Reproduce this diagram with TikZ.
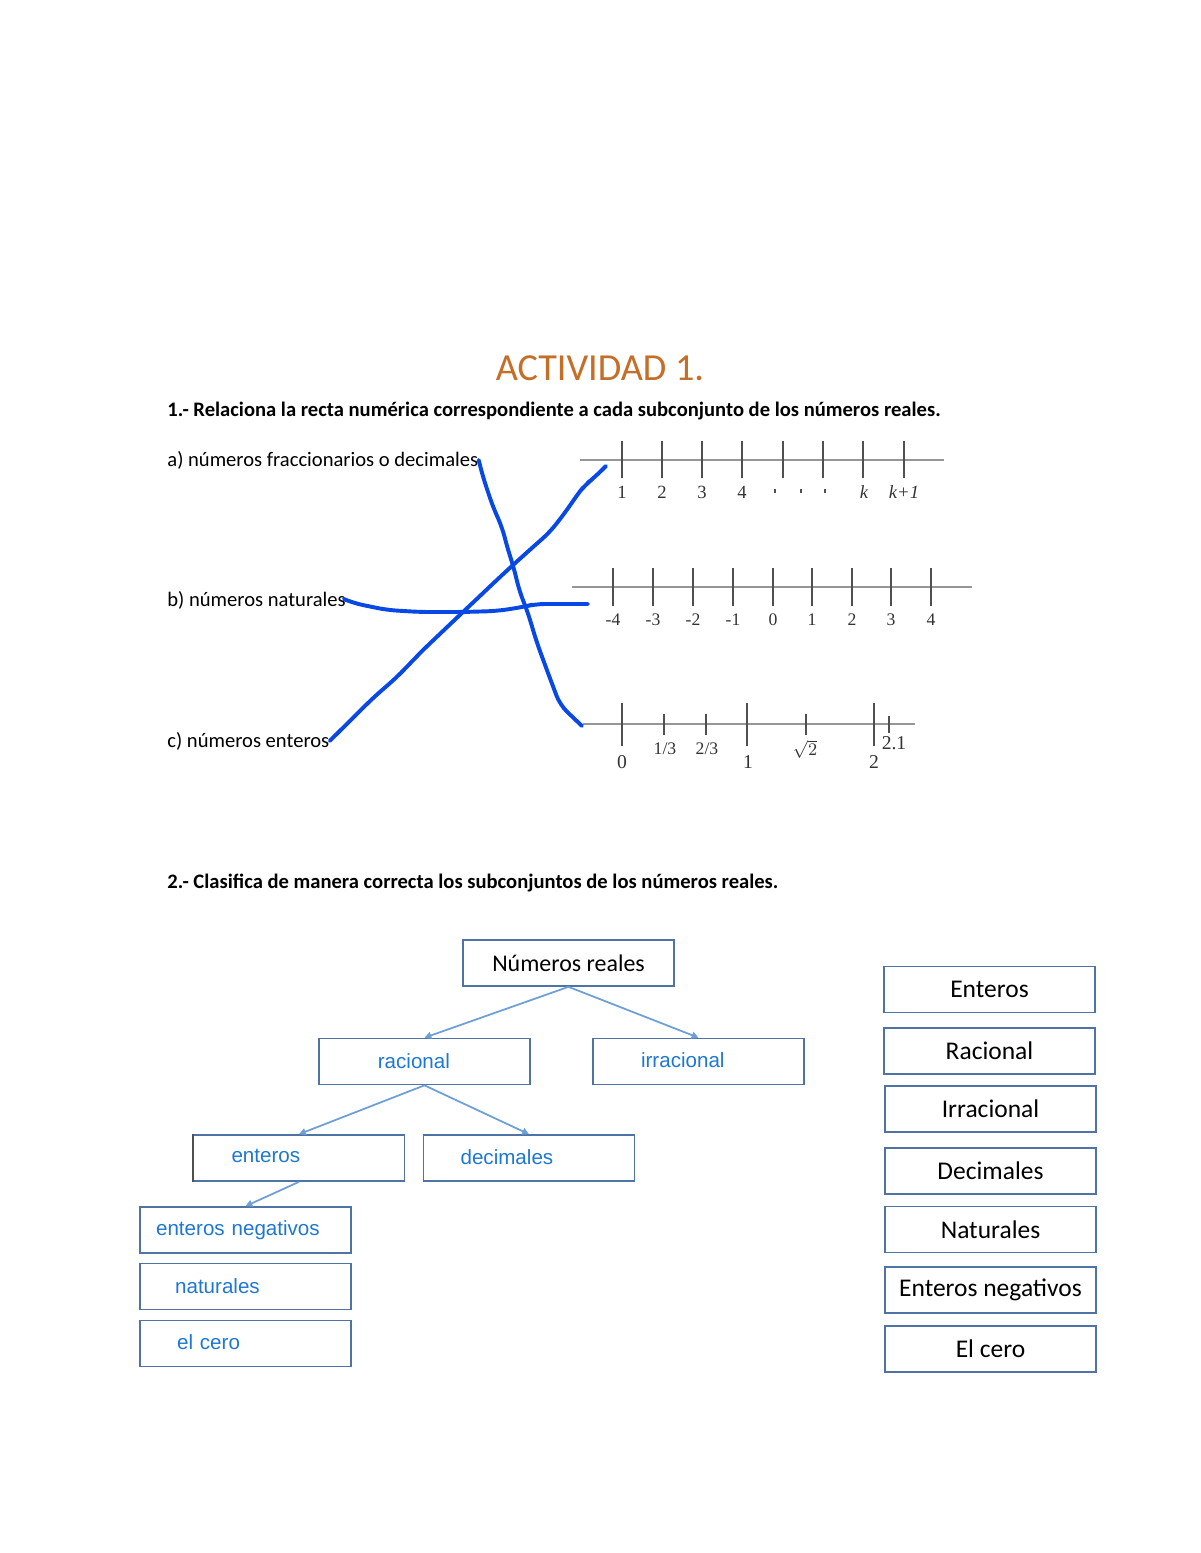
\documentclass[tikz,border=0pt]{standalone}
\usepackage{fontspec}
\setmainfont{Carlito}
\newfontfamily\arialf{Liberation Sans}
\newfontfamily\tnr{Liberation Serif}
\usetikzlibrary{arrows.meta}
\definecolor{titleor}{RGB}{196,110,40}
\definecolor{penblue}{RGB}{8,72,228}
\definecolor{boxc}{RGB}{80,115,165}
\definecolor{arrc}{RGB}{110,160,215}
\definecolor{txtblue}{RGB}{30,120,210}
\definecolor{axisg}{RGB}{150,150,150}
\definecolor{tickg}{RGB}{80,80,80}
\begin{document}
\begin{tikzpicture}[x=0.51pt,y=-0.51pt,
  txt/.style={anchor=west,inner sep=0pt,font=\fontsize{10.5}{13}\selectfont},
  qtxt/.style={anchor=west,inner sep=0pt,font=\bfseries\fontsize{10.5}{13}\selectfont},
  axisline/.style={draw=axisg,line width=1pt},
  tickline/.style={draw=tickg,line width=0.7pt},
  nl/.style={inner sep=0pt,font=\tnr\fontsize{9}{10}\selectfont,text=black!80},
  pen/.style={draw=penblue,line width=2pt,rounded corners=5pt,line cap=round,line join=round},
  bluebox/.style={draw=boxc,line width=0.8pt,minimum height=23.5pt,inner sep=0pt,text width=107.6pt,align=left,font=\arialf\fontsize{10.5}{12}\selectfont,text=txtblue},
  blackbox/.style={draw=boxc,line width=0.8pt,minimum height=23.5pt,minimum width=107.6pt,inner sep=0pt,align=center,font=\fontsize{13}{15}\selectfont},
  arr/.style={draw=arrc,line width=0.9pt,-{Triangle[length=3.5pt,width=3.5pt]}}
]
\useasboundingbox (0,0) rectangle (1200,1553);
\fill[white] (0,0) rectangle (1200,1553);

% title and questions
\node[inner sep=0pt,font=\fontsize{19.5}{23}\selectfont,text=titleor] (title) at (600,368) {ACTIVIDAD 1.};
\node[qtxt] (q1) at (167,411) {1.- Relaciona la recta numérica correspondiente a cada subconjunto de los números reales.};
\node[txt] (la) at (167,460) {a) números fraccionarios o decimales};
\node[txt] (lb) at (167,600) {b) números naturales};
\node[txt] (lc) at (167,741) {c) números enteros};
\node[qtxt] (q2) at (167,883) {2.- Clasifica de manera correcta los subconjuntos de los números reales.};

% number line 1 (naturales)
\draw[axisline] (580,460) -- (944,460);
\foreach \x in {622,662,702,742,783,823,863,904} \draw[tickline] (\x,441) -- (\x,478);
\foreach \x/\l in {622/1,662/2,702/3,742/4} \node[nl,font=\tnr\fontsize{9.5}{10}\selectfont] at (\x,492) {\l};
\foreach \x in {775,801,825} \draw[tickg,line width=0.6pt] (\x,489) -- (\x,493);
\node[nl,font=\tnr\itshape\fontsize{9.5}{10}\selectfont] at (864,492) {k};
\node[nl,font=\tnr\itshape\fontsize{9.5}{10}\selectfont] at (904,492) {k+1};
\coordinate (n1) at (606,466);

% number line 2 (enteros)
\draw[axisline] (572,587) -- (972,587);
\foreach \x/\l in {613/-4,653/-3,693/-2,733/-1,773/0,812/1,852/2,891/3,931/4} {
  \draw[tickline] (\x,568) -- (\x,606);
  \node[nl] at (\x,620) {\l};
}
\coordinate (n2) at (588,604);

% number line 3 (fraccionarios)
\draw[axisline] (583,724) -- (915,724);
\foreach \x in {622,747} \draw[tickline] (\x,703) -- (\x,746);
\draw[tickline,line width=1.5pt] (874,703) -- (874,746);
\foreach \x in {664,706,806} \draw[tickline] (\x,714) -- (\x,735);
\draw[tickline] (889,716) -- (889,733);
\node[nl,font=\tnr\fontsize{10}{11}\selectfont] at (622,762) {0};
\node[nl] at (665,749) {1/3};
\node[nl] at (707,749) {2/3};
\node[nl,font=\tnr\fontsize{10}{11}\selectfont] at (748,762) {1};
\node[nl] at (805,749) {$\sqrt{2}$};
\node[nl,font=\tnr\fontsize{10}{11}\selectfont] at (874,762) {2};
\node[nl,font=\tnr\fontsize{10}{11}\selectfont] at (894,743) {2.1};
\coordinate (n3) at (582,726);

% hand-drawn matching strokes
\draw[pen] (la.east) -- (483,477) -- (493,507) -- (502,527) -- (508,550) -- (513,565) -- (520,593) -- (527,610) -- (537,643) -- (548,673) -- (560,705) -- (n3);
\draw[pen] (lc.east) -- (373,698) -- (397,677) -- (423,650) -- (463,612) -- (500,577) -- (513,565) -- (533,547) -- (550,532) -- (567,510) -- (577,495) -- (585,485) -- (595,477) -- (n1);
\draw[pen] (lb.east) -- (353,603) -- (387,610) -- (420,612) -- (463,612) -- (497,611) -- (523,607) -- (535,604) -- (n2);

% classification tree
\node[blackbox,font=\fontsize{12.2}{14}\selectfont] (nr) at (568.5,963) {Números reales};
\node[bluebox] (rac) at (424.5,1061.5) {\hspace*{30pt}racional};
\node[bluebox] (irr) at (698.5,1061.5) {\hspace*{24.5pt}\raisebox{1.5pt}{irracional}};
\node[bluebox] (ent) at (299,1158) {\hspace*{19.4pt}\raisebox{2pt}{enteros}};
\node[bluebox] (dec) at (529,1158) {\hspace*{18.9pt}\raisebox{1.5pt}{decimales}};
\node[bluebox] (eneg) at (245.5,1230) {\hspace*{8.2pt}\raisebox{1.5pt}{enteros negativos}};
\node[bluebox] (nat) at (245.5,1286.5) {\hspace*{17.9pt}naturales};
\node[bluebox] (cero) at (245.5,1343.5) {\hspace*{18.9pt}\raisebox{1pt}{el cero}};
\draw[tickg,line width=1pt] (ent.north west) -- (ent.south west);

\draw[arr] (nr.south) -- (rac.north);
\draw[arr] (nr.south) -- (irr.north);
\draw[arr] (rac.south) -- (ent.north);
\draw[arr] (rac.south) -- (dec.north);
\draw[arr] (ent.south) -- (eneg.north);

% answer options
\node[blackbox] (oent) at (989.5,989.5) {Enteros};
\node[blackbox] (orac) at (989.5,1051) {Racional};
\node[blackbox] (oirr) at (990.5,1109) {Irracional};
\node[blackbox] (odec) at (990.5,1171) {Decimales};
\node[blackbox] (onat) at (990.5,1229.5) {Naturales};
\node[blackbox] (oneg) at (990.5,1290) {Enteros negativos};
\node[blackbox] (ocer) at (990.5,1349) {El cero};
\end{tikzpicture}
\end{document}
